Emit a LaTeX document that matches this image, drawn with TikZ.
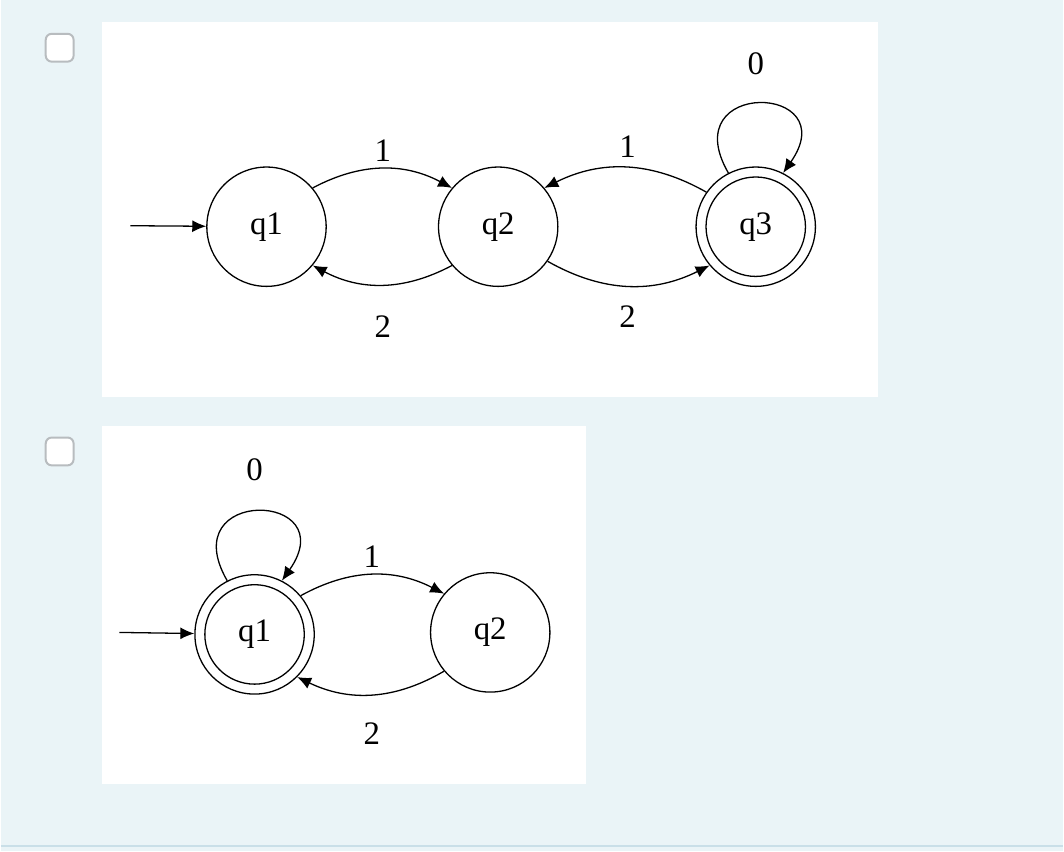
\documentclass[tikz,border=0pt]{standalone}
\usepackage{fontspec}
\setmainfont{Liberation Serif}
\usetikzlibrary{arrows.meta}
\definecolor{bgc}{HTML}{EAF4F7}
\definecolor{cbx}{HTML}{B8BCBF}
\definecolor{lnc}{HTML}{C9DFE8}
\begin{document}
\begin{tikzpicture}[x=0.5pt,y=0.5pt,
  st/.style={circle,draw,line width=0.65pt,minimum size=60pt,inner sep=0pt,font=\fontsize{16.5}{19}\selectfont},
  inn/.style={circle,draw,line width=0.65pt,minimum size=50pt,inner sep=0pt},
  tr/.style={line width=0.65pt,-{Latex[length=7pt,width=6pt]}},
  lb/.style={font=\fontsize{16.5}{19}\selectfont},
  chk/.style={draw=cbx,line width=1pt,fill=white,rounded corners=3pt,minimum size=14pt,inner sep=0pt}]
\fill[bgc] (-2,-2) rectangle (1066,854);
\draw[lnc,line width=1pt] (-2,3) -- (1066,3);
\fill[white] (100,455) rectangle (880,832);
\fill[white] (100,66) rectangle (586,426);
\node[chk] (c1) at (57,806) {};
\node[chk] (c2) at (57,400) {};
% diagram 1
\node[st] (a1) at (265,626) {q1};
\node[st] (a2) at (498,626) {q2};
\node[st] (a3) at (757,626) {q3};
\node[inn] (a3i) at (a3) {};
\coordinate (a0) at (128,627);
\draw[tr] (a0) -- (a1);
\draw[tr] (a1.40) to[bend left=28] (a2.140);
\draw[tr] (a2.-140) to[bend left=28] (a1.-40);
\draw[tr] (a3.145) to[bend right=28] (a2.40);
\draw[tr] (a2.-35) to[bend right=28] (a3.-140);
\draw[tr] (a3.117) .. controls +(120:110) and +(55:110) .. (a3.63);
\node[lb] (l1) at (382,702) {1};
\node[lb] (l2) at (382,526) {2};
\node[lb] (l3) at (628,706) {1};
\node[lb] (l4) at (628,536) {2};
\node[lb] (l5) at (757,790) {0};
% diagram 2
\node[st] (b1) at (253,216) {q1};
\node[inn] (b1i) at (b1) {};
\node[st] (b2) at (490,218) {q2};
\coordinate (b0) at (117,218);
\draw[tr] (b0) -- (b1);
\draw[tr] (b1.40) to[bend left=28] (b2.140);
\draw[tr] (b2.-140) to[bend left=28] (b1.-45);
\draw[tr] (b1.117) .. controls +(120:110) and +(55:110) .. (b1.63);
\node[lb] (m1) at (371,294) {1};
\node[lb] (m2) at (371,116) {2};
\node[lb] (m0) at (253,382) {0};
\end{tikzpicture}
\end{document}
